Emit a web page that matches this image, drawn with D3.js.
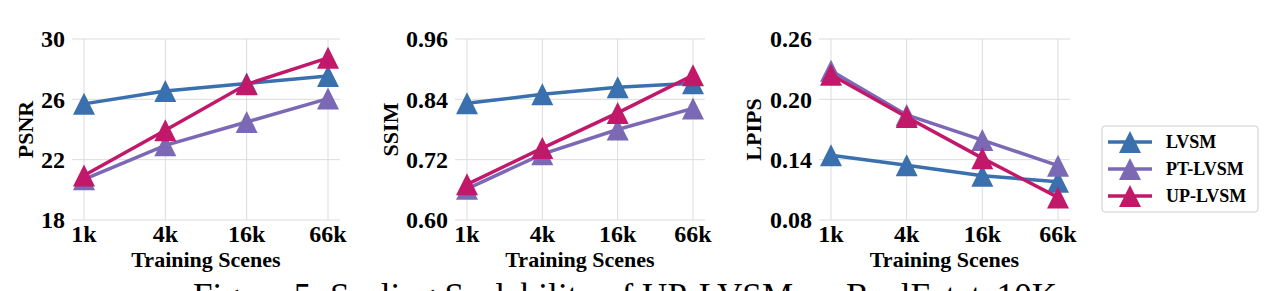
<!DOCTYPE html>
<html>
<head>
<meta charset="utf-8">
<script src="https://cdn.jsdelivr.net/npm/d3@7"></script>
<style>
  body { margin: 0; background: #fff; }
  svg { display: block; font-family: "Liberation Serif", "Times New Roman", serif; }
</style>
</head>
<body>
<div id="chart"></div>
<script>
const scenes = ["1k", "4k", "16k", "66k"];
const methods = ["LVSM", "PT-LVSM", "UP-LVSM"];
const colors = ["#3b70ae", "#7b69b6", "#c2186a"];

// values, one array per method
const psnrLVSM = [25.7, 26.55, 27.05, 27.55];
const psnrPT = [20.7, 22.95, 24.5, 26.05];
const psnrUP = [20.95, 23.95, 27.0, 28.75];

const ssimLVSM = [0.832, 0.850, 0.864, 0.872];
const ssimPT = [0.662, 0.731, 0.780, 0.822];
const ssimUP = [0.671, 0.743, 0.813, 0.888];

const lpipsLVSM = [0.1445, 0.1345, 0.124, 0.118];
const lpipsPT = [0.2285, 0.1845, 0.1595, 0.134];
const lpipsUP = [0.2245, 0.1825, 0.1415, 0.1025];

const psnrTicks = [18, 22, 26, 30];
const ssimTicks = [0.60, 0.72, 0.84, 0.96];
const lpipsTicks = [0.08, 0.14, 0.20, 0.26];

const width = 1266, height = 291;

const svg = d3.select("#chart").append("svg")
    .attr("width", width)
    .attr("height", height);

const panels = [
    { label: "PSNR", series: [psnrLVSM, psnrPT, psnrUP], ticks: psnrTicks, fmt: d3.format("d"),
      x0: 84, x1: 328, labelX: 25 },
    { label: "SSIM", series: [ssimLVSM, ssimPT, ssimUP], ticks: ssimTicks, fmt: d3.format(".2f"),
      x0: 467, x1: 693, labelX: 390 },
    { label: "LPIPS", series: [lpipsLVSM, lpipsPT, lpipsUP], ticks: lpipsTicks, fmt: d3.format(".2f"),
      x0: 831, x1: 1058, labelX: 753 }
];

const plotTop = 39, plotBottom = 220, pad = 12;
const triPath = "M0,-11L11,11L-11,11Z";

panels.forEach(p => {
    const x = d3.scalePoint().domain(scenes).range([p.x0, p.x1]);
    const y = d3.scaleLinear().domain(d3.extent(p.ticks)).range([plotBottom, plotTop]);
    const g = svg.append("g");
    const gl = p.x0 - pad, gr = p.x1 + pad;

    // grid
    g.selectAll(".hgrid").data(p.ticks).join("line")
        .attr("class", "hgrid")
        .attr("x1", gl).attr("x2", gr)
        .attr("y1", d => y(d)).attr("y2", d => y(d))
        .attr("stroke", "#dcdcdc").attr("stroke-width", 1);
    g.selectAll(".vgrid").data(scenes).join("line")
        .attr("class", "vgrid")
        .attr("x1", d => x(d)).attr("x2", d => x(d))
        .attr("y1", plotTop).attr("y2", plotBottom)
        .attr("stroke", "#dcdcdc").attr("stroke-width", 1);

    // tick labels
    g.selectAll(".ytick").data(p.ticks).join("text")
        .attr("class", "ytick")
        .attr("x", gl - 7).attr("y", d => y(d))
        .attr("dy", "0.35em")
        .attr("text-anchor", "end")
        .style("font-size", "24px").style("font-weight", "bold")
        .text(p.fmt);
    g.selectAll(".xtick").data(scenes).join("text")
        .attr("class", "xtick")
        .attr("x", d => x(d)).attr("y", 242)
        .attr("text-anchor", "middle")
        .style("font-size", "24px").style("font-weight", "bold")
        .text(d => d);

    g.append("text")
        .attr("x", (p.x0 + p.x1) / 2).attr("y", 267)
        .attr("text-anchor", "middle")
        .style("font-size", "22px").style("font-weight", "bold")
        .text("Training Scenes");

    g.append("text")
        .attr("transform", `translate(${p.labelX},${(plotTop + plotBottom) / 2}) rotate(-90)`)
        .attr("dy", "0.35em")
        .attr("text-anchor", "middle")
        .style("font-size", "22px").style("font-weight", "bold")
        .text(p.label);

    const line = d3.line().x((d, i) => x(scenes[i])).y(d => y(d));

    p.series.forEach((vals, k) => {
        g.append("path")
            .attr("d", line(vals))
            .attr("fill", "none")
            .attr("stroke", colors[k])
            .attr("stroke-width", 3.5);
        g.selectAll(null).data(vals).join("path")
            .attr("d", triPath)
            .attr("transform", (d, i) => `translate(${x(scenes[i])},${y(d)})`)
            .attr("fill", colors[k]);
    });
});

// legend
const legend = svg.append("g").attr("transform", "translate(1102,126)");
legend.append("rect")
    .attr("width", 156).attr("height", 86)
    .attr("rx", 3)
    .attr("fill", "#fff").attr("stroke", "#cccccc");
methods.forEach((m, k) => {
    const cy = 16 + k * 27;
    legend.append("line")
        .attr("x1", 6).attr("x2", 50).attr("y1", cy).attr("y2", cy)
        .attr("stroke", colors[k]).attr("stroke-width", 3.5);
    legend.append("path")
        .attr("d", triPath)
        .attr("transform", `translate(28,${cy})`)
        .attr("fill", colors[k]);
    legend.append("text")
        .attr("x", 64).attr("y", cy).attr("dy", "0.35em")
        .style("font-size", "18px").style("font-weight", "bold")
        .text(m);
});

// caption, cut off by the bottom edge
svg.append("text")
    .attr("x", 193).attr("y", 308)
    .attr("textLength", 864)
    .style("font-size", "35px")
    .text("Figure 5: Scaling Scalability of UP-LVSM on RealEstate10K");
</script>
</body>
</html>
